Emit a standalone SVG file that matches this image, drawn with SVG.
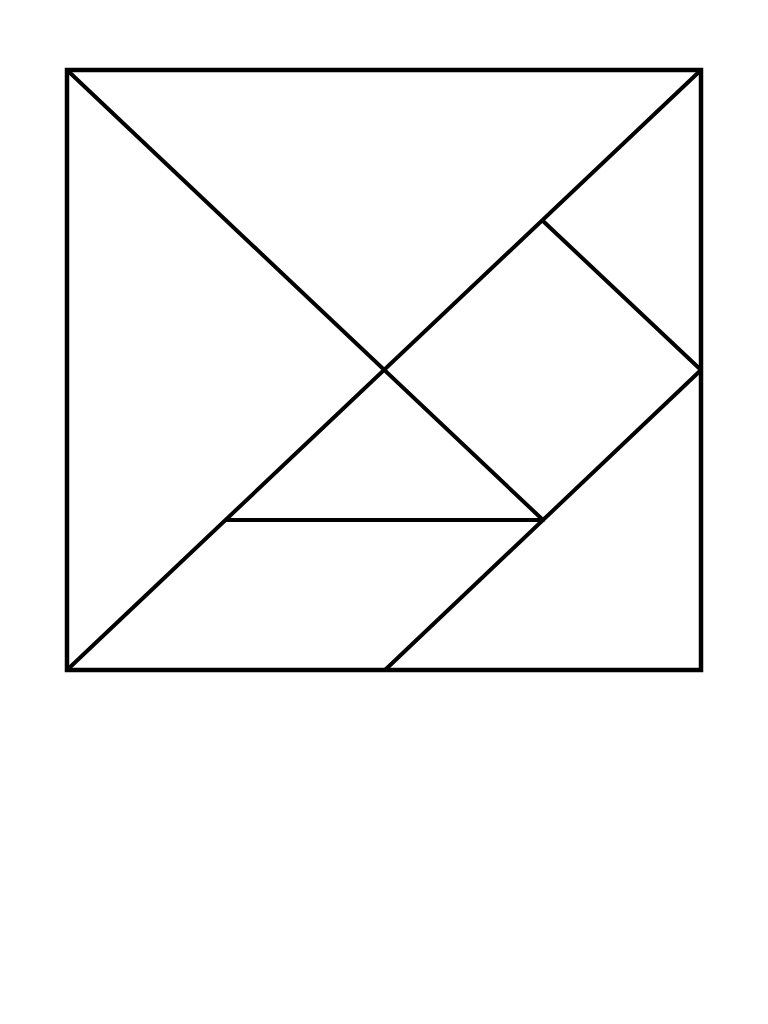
<svg xmlns="http://www.w3.org/2000/svg" width="768" height="1024" viewBox="0 0 768 1024">
<style>
.ln{stroke:#000;stroke-width:4;fill:none;stroke-linecap:round;stroke-linejoin:miter}
</style>
<rect width="768" height="1024" fill="#fff"/>
<g id="frame"><rect class="ln" x="67" y="70" width="634" height="600" style="stroke-width:4.5"/></g>
<g id="pieces">
<line class="ln" x1="67" y1="70" x2="543" y2="520"/>
<line class="ln" x1="67" y1="670" x2="701" y2="70"/>
<line class="ln" x1="543" y1="221" x2="701" y2="370"/>
<line class="ln" x1="701" y1="370" x2="385" y2="670"/>
<line class="ln" x1="227" y1="520" x2="543" y2="520"/>
</g>
</svg>
